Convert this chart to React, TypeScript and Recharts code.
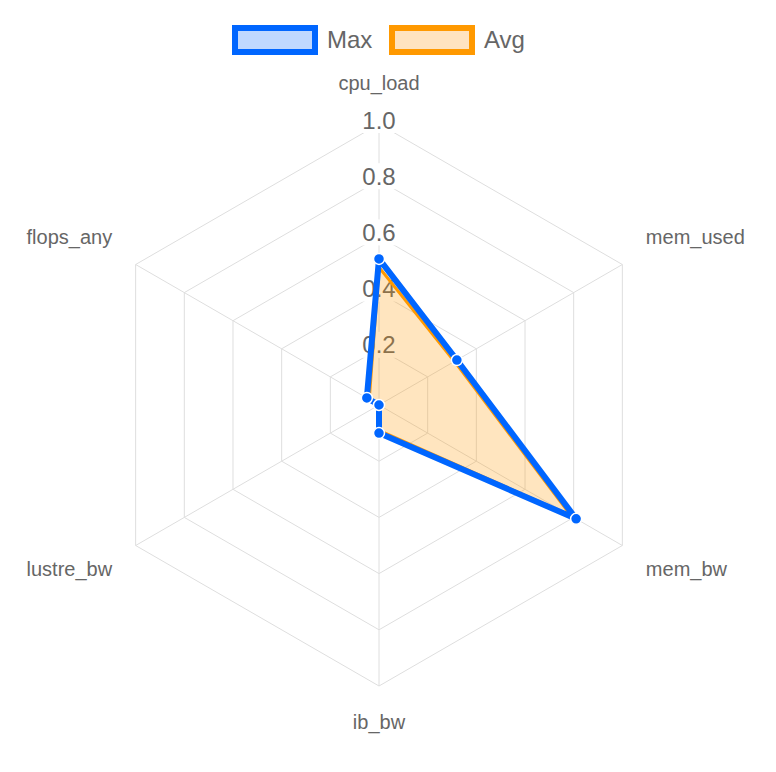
import React from 'react';
import { RadarChart, Radar, PolarGrid, PolarAngleAxis, PolarRadiusAxis } from 'recharts';

const metrics = ['cpu_load', 'mem_used', 'mem_bw', 'ib_bw', 'lustre_bw', 'flops_any'];
const maxValues = [0.52, 0.32, 0.81, 0.1, 0.0, 0.05];
const avgValues = [0.49, 0.31, 0.79, 0.09, 0.0, 0.04];
const radiusTicks = [0, 0.2, 0.4, 0.6, 0.8, 1.0];

const BLUE = '#0066ff';
const ORANGE = '#ff9900';
const FONT = '"Liberation Sans", Arial, Helvetica, sans-serif';

const CX = 379;
const CY = 405;
const R = 281;

const data = metrics.map((m, i) => ({ metric: m, max: maxValues[i], avg: avgValues[i] }));

const AngleTick = (props: any) => {
  const { payload } = props;
  const a = (payload.coordinate * Math.PI) / 180;
  const cos = Math.cos(a);
  const sin = Math.sin(a);
  const vx = CX + R * cos;
  const vy = CY - R * sin;
  let x = vx;
  let y = vy;
  let anchor: 'start' | 'middle' | 'end' = 'middle';
  if (Math.abs(cos) < 0.01) {
    y = sin > 0 ? vy - 41 : vy + 36;
  } else {
    anchor = cos > 0 ? 'start' : 'end';
    x = vx + (cos > 0 ? 23.5 : -23.5);
    y = sin > 0 ? vy - 27.5 : vy + 23.5;
  }
  return (
    <text x={x} y={y} textAnchor={anchor} dominantBaseline="central" fill="#666" fontSize={20} fontFamily={FONT}>
      {payload.value}
    </text>
  );
};

const RadiusTick = (props: any) => {
  const { x, y, payload } = props;
  if (!payload || payload.value === 0) return <g />;
  return (
    <g>
      <rect x={x - 21} y={y - 17} width={42} height={26} fill="#fff" />
      <text x={x} y={y - 4} textAnchor="middle" dominantBaseline="central" fill="#666" fontSize={24} fontFamily={FONT}>
        {Number(payload.value).toFixed(1)}
      </text>
    </g>
  );
};

const legendItems = [
  { name: 'Max', stroke: BLUE, fill: '#bfd8ff', left: 232 },
  { name: 'Avg', stroke: ORANGE, fill: '#ffe3bf', left: 389 },
];

export default function App() {
  return (
    <div style={{ position: 'absolute', left: 0, top: 0, width: 776, height: 772, background: '#fff' }}>
      {legendItems.map((it) => (
        <div key={it.name} style={{ position: 'absolute', left: it.left, top: 25, display: 'flex', alignItems: 'center' }}>
          <div
            style={{
              width: 86,
              height: 30,
              boxSizing: 'border-box',
              border: `6px solid ${it.stroke}`,
              background: it.fill,
            }}
          />
          <span style={{ marginLeft: 9, fontSize: 24, color: '#666', fontFamily: FONT, lineHeight: '30px' }}>{it.name}</span>
        </div>
      ))}
      <RadarChart
        width={776}
        height={772}
        data={data}
        cx={CX}
        cy={CY}
        outerRadius={R}
        margin={{ top: 0, right: 0, bottom: 0, left: 0 }}
      >
        <PolarGrid gridType="polygon" stroke="#dedede" strokeWidth={1} />
        <PolarAngleAxis dataKey="metric" tick={<AngleTick />} tickLine={false} axisLine={false} />
        <PolarRadiusAxis
          type="number"
          angle={90}
          domain={[0, 1]}
          ticks={radiusTicks as any}
          tickCount={6}
          allowDecimals
          axisLine={false}
          tickLine={false}
          tick={<RadiusTick />}
          {...({ zIndex: 50 } as any)}
        />
        <Radar
          name="Avg"
          dataKey="avg"
          stroke={ORANGE}
          strokeWidth={3}
          fill={ORANGE}
          fillOpacity={0.25}
          dot={false}
          isAnimationActive={false}
          {...({ zIndex: 100 } as any)}
        />
        <Radar
          name="Max"
          dataKey="max"
          stroke={BLUE}
          strokeWidth={6}
          strokeLinejoin="round"
          fill="none"
          fillOpacity={0}
          dot={{ r: 5.5, fill: BLUE, stroke: '#fff', strokeWidth: 1.5, fillOpacity: 1 }}
          isAnimationActive={false}
          {...({ zIndex: 101 } as any)}
        />
      </RadarChart>
    </div>
  );
}
